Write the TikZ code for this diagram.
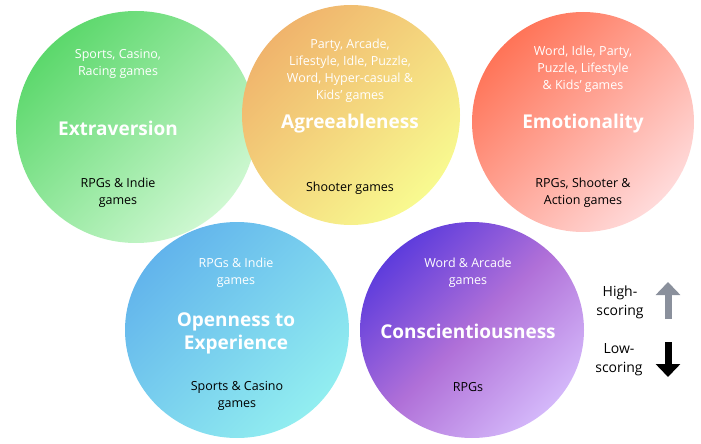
\documentclass[tikz,border=0pt]{standalone}
\usepackage{fontspec}
\setmainfont{Open Sans}
\usetikzlibrary{positioning,arrows.meta}
\definecolor{extA}{HTML}{5CD86C}
\definecolor{extB}{HTML}{CFF8D2}
\definecolor{agrA}{HTML}{F0B46C}
\definecolor{agrB}{HTML}{F8FA90}
\definecolor{emoA}{HTML}{FF7458}
\definecolor{emoB}{HTML}{FFDADA}
\definecolor{opeA}{HTML}{62B4EC}
\definecolor{opeB}{HTML}{92EEF0}
\definecolor{conA}{HTML}{5E3CDC}
\definecolor{conM}{HTML}{B070D8}
\definecolor{conB}{HTML}{D4B8FA}
\definecolor{upgray}{HTML}{8A909C}
\tikzset{
  >=Stealth,
  trait/.style={font=\fontsize{19}{23}\selectfont\bfseries, text=white, align=center},
  hitext/.style={font=\fontsize{12.5}{17}\selectfont, text=white, align=center},
  lotext/.style={font=\fontsize{12.5}{17}\selectfont, text=black, align=center},
  legtext/.style={font=\fontsize{14}{19}\selectfont, align=center}
}
\begin{document}
\begin{tikzpicture}[x=1pt,y=-1pt]
  \useasboundingbox (0,0) rectangle (701,444);
  % circles
  \shade[shading=axis, left color=extA, right color=extB, shading angle=45] (136,127) circle [x radius=120, y radius=116];
  \shade[shading=axis, left color=agrA, right color=agrB, shading angle=45] (351,115) circle [x radius=109, y radius=110];
  \shade[shading=axis, left color=emoA, right color=emoB, shading angle=45] (583,122) circle [x radius=111, y radius=110];
  \shade[shading=axis, left color=opeA, right color=opeB, shading angle=45] (237,330) circle [x radius=112, y radius=108];
  \shade[shading=axis, left color=conA, right color=conB, middle color=conM, shading angle=45] (472,330) circle [x radius=112, y radius=108];
  % texts
  \node[hitext] (extHi) at (118,64) {Sports, Casino,\\Racing games};
  \node[trait] (ext) at (118,128) {Extraversion};
  \node[lotext] (extLo) at (118,193) {RPGs \& Indie\\games};
  \node[hitext] (agrHi) at (350,71) {Party, Arcade,\\Lifestyle, Idle, Puzzle,\\Word, Hyper-casual \&\\Kids' games};
  \node[trait] (agr) at (350,124) {Agreeableness};
  \node[lotext] (agrLo) at (350,188) {Shooter games};
  \node[hitext] (emoHi) at (583,69) {Word, Idle, Party,\\Puzzle, Lifestyle\\\& Kids' games};
  \node[trait] (emo) at (583,124) {Emotionality};
  \node[lotext] (emoLo) at (583,193) {RPGs, Shooter \&\\Action games};
  \node[hitext] (opeHi) at (236,273) {RPGs \& Indie\\games};
  \node[trait] (ope) at (236,333) {Openness to\\Experience};
  \node[lotext] (opeLo) at (237,396) {Sports \& Casino\\games};
  \node[hitext] (conHi) at (468,273) {Word \& Arcade\\games};
  \node[trait] (con) at (468,331) {Conscientiousness};
  \node[lotext] (conLo) at (468,387) {RPGs};
  % legend
  \node[legtext] (high) at (620,302) {High-\\scoring};
  \node[legtext] (low) at (619,360) {Low-\\scoring};
  \coordinate (upB) at (668,319);
  \coordinate (upT) at (668,282);
  \coordinate (dnT) at (668,342);
  \coordinate (dnB) at (668,377);
  \draw[line width=7pt, color=upgray, -{Triangle[width=24pt,length=13pt]}] (upB) -- (upT);
  \draw[line width=7pt, color=black, -{Triangle[width=24pt,length=13pt]}] (dnT) -- (dnB);
\end{tikzpicture}
\end{document}
